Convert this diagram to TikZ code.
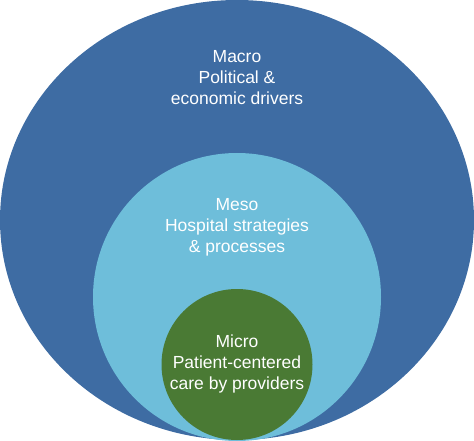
\documentclass[tikz,border=0pt]{standalone}
\usepackage{fontspec}
\setmainfont{Liberation Sans}
\definecolor{macroblue}{RGB}{62,108,163}
\definecolor{mesoblue}{RGB}{110,190,218}
\definecolor{microgreen}{RGB}{74,122,52}
\begin{document}
\begin{tikzpicture}[x=1pt,y=1pt,
  lbl/.style={text=white,align=center,font=\fontsize{17.5}{21}\selectfont,inner sep=0pt}]
\useasboundingbox (0,0) rectangle (474,440);
\begin{scope}
\clip (0,0) rectangle (474,440);
\fill[macroblue] (237,220) ellipse [x radius=237, y radius=220];
\fill[mesoblue] (237,143) circle [radius=144];
\fill[microgreen] (237,75.5) circle [radius=75.5];
\end{scope}
\node[lbl] (macro) at (237,362) {Macro\\Political \&\\economic drivers};
\node[lbl] (meso) at (237,213) {Meso\\Hospital strategies\\\& processes};
\node[lbl] (micro) at (237,76) {Micro\\Patient-centered\\care by providers};
\end{tikzpicture}
\end{document}
